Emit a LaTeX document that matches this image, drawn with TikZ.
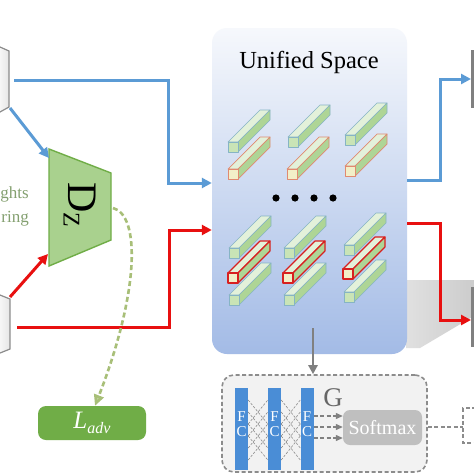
\documentclass[tikz,border=0pt]{standalone}
\usepackage{fontspec}
\setmainfont{Liberation Serif}
\usetikzlibrary{arrows.meta,calc}
\definecolor{lineblue}{HTML}{5B9BD5}
\definecolor{linered}{HTML}{E81010}
\definecolor{dzfill}{HTML}{A9D18E}
\definecolor{dzdraw}{HTML}{70AD47}
\definecolor{advgreen}{HTML}{70AD47}
\definecolor{curvegreen}{HTML}{A8BF78}
\definecolor{spacetop}{HTML}{F6F8FC}
\definecolor{spacebot}{HTML}{A3BBE6}
\definecolor{fcblue}{HTML}{4A8DD6}
\definecolor{gbox}{HTML}{F2F2F2}
\definecolor{gline}{HTML}{8C8C8C}
\definecolor{softgray}{HTML}{BFBFBF}
\definecolor{sharetext}{HTML}{84A070}
\definecolor{cubtop}{HTML}{E3F1DA}
\definecolor{cubside}{HTML}{AED596}
\definecolor{cubfront}{HTML}{C9E4B6}
\definecolor{cubfronty}{HTML}{F2EFC8}
\definecolor{edgeblue}{HTML}{86B4C4}
\definecolor{edgeredl}{HTML}{E08A70}
\definecolor{edgered}{HTML}{D82020}
\newcommand{\cub}[5]{%
  \filldraw[draw=#3,line width=#5,fill=cubtop,line join=round] (#1,#2) -- ++(10,0) -- ++(32,-32) -- ++(-10,0) -- cycle;
  \filldraw[draw=#3,line width=#5,fill=cubside,line join=round] (#1+10,#2) -- ++(0,10) -- ++(32,-32) -- ++(0,-10) -- cycle;
  \filldraw[draw=#3,line width=#5,fill=#4,line join=round] (#1,#2) rectangle ++(10,10);
}
\tikzset{
  conn/.style={line width=3,line join=miter},
  bluec/.style={conn,draw=lineblue,-{Triangle[length=10,width=10]}},
  redc/.style={conn,draw=linered,-{Triangle[length=10,width=10]}},
  leftshape/.style={draw=gline,line width=1.2,left color=white,right color=black!10},
  rightbar/.style={fill=black!50},
  dashg/.style={draw=gline,line width=1.6,dash pattern=on 4 off 2.5},
  fctext/.style={text=white,font=\fontsize{15}{15}\selectfont,inner sep=0},
}
\begin{document}
\begin{tikzpicture}[x=1pt,y=-1pt]
\useasboundingbox (0,0) rectangle (474,474);
\clip (0,0) rectangle (474,474);
\fill[white] (0,0) rectangle (474,474);

% shadow on right
\shade[left color=black!12,right color=black!20] (406,280) -- (474,280) -- (474,316) -- (420,348) -- (406,348) -- cycle;

% left shapes
\draw[leftshape] (-5,47) -- (0,47) -- (9,51) -- (9,107) -- (0,112) -- (-5,112) -- cycle;
\draw[leftshape] (-5,295) -- (0,295) -- (10,299) -- (10,349) -- (0,353) -- (-5,353) -- cycle;
\coordinate (ta) at (14,80);
\coordinate (tb) at (10,108);
\coordinate (ba) at (10,297);
\coordinate (bb) at (17,327);

% unified space
\node[minimum width=195,minimum height=326,rounded corners=15,top color=spacetop,bottom color=spacebot,draw=none] (us) at (309.5,191) {};
\node[font=\fontsize{24.5}{26}\selectfont] (ustitle) at (309,62) {Unified Space};

% cuboids upper
\cub{228}{142}{edgeblue}{cubfront}{0.6}
\cub{288}{137}{edgeblue}{cubfront}{0.6}
\cub{345}{135}{edgeblue}{cubfront}{0.6}
\cub{228}{169}{edgeredl}{cubfronty}{0.7}
\cub{287}{169}{edgeredl}{cubfronty}{0.7}
\cub{345}{166}{edgeredl}{cubfronty}{0.7}
% dots
\foreach \i/\xx in {1/276,2/295,3/314,4/333}{\fill (\xx,198) circle (3.6);}
% cuboids lower
\cub{229}{248}{edgeblue}{cubfront}{0.6}
\cub{284}{248}{edgeblue}{cubfront}{0.6}
\cub{344}{245}{edgeblue}{cubfront}{0.6}
\cub{228}{273}{edgered}{cubfronty}{1.1}
\cub{283}{273}{edgered}{cubfronty}{1.1}
\cub{343}{269}{edgered}{cubfronty}{1.1}
\cub{229}{295}{edgeblue}{cubfront}{0.6}
\cub{284}{295}{edgeblue}{cubfront}{0.6}
\cub{344}{292}{edgeblue}{cubfront}{0.6}

% Dz trapezoid
\filldraw[fill=dzfill,draw=dzdraw,line width=1.4] (49,149) -- (111,173) -- (111,240) -- (49,266) -- cycle;
\coordinate (dztl) at (49,158);
\coordinate (dzbl) at (48,254);
\coordinate (dzr) at (113,208);
\node[rotate=-90,inner sep=0] (dz) at (80,205) {\fontsize{42}{42}\selectfont D\raisebox{-0.12em}{\fontsize{24}{24}\selectfont Z}};

% weights sharing (cut)
\node[anchor=base east,inner sep=0,text=sharetext,font=\fontsize{17}{17}\selectfont] (w1) at (29,198) {ghts};
\node[anchor=base east,inner sep=0,text=sharetext,font=\fontsize{17}{17}\selectfont] (w2) at (29,222) {ring};

% connectors left
\draw[bluec] (ta) -- (168,80) -- (168,183) -- (us.west |- 0,183);
\draw[bluec] (tb) -- (dztl);
\draw[redc] (bb) -- (169,327) -- (169,230) -- (us.west |- 0,230);
\draw[redc] (ba) -- (dzbl);

% L_adv
\node[fill=advgreen,rounded corners=8,minimum width=108,minimum height=34,text=white,font=\fontsize{25}{25}\selectfont] (ladv) at (92,423) {\textit{L}\raisebox{-0.2em}{\fontsize{16}{16}\selectfont\textit{adv}}};
\draw[curvegreen,line width=2.6,dash pattern=on 5 off 3,-{Triangle[length=11,width=10,fill=curvegreen!70]}] (dzr) .. controls (140,215) and (140,290) .. (ladv.north -| 95,0);

% right side
\fill[rightbar] (471,50) rectangle (476,108);
\fill[rightbar] (471,287) rectangle (476,347);
\coordinate (rb) at (471,79);
\coordinate (rr) at (471,320);
\draw[bluec] (us.east |- 0,180) -- (440,180) -- (440,79) -- (rb);
\draw[redc] (us.east |- 0,223) -- (440,223) -- (440,320) -- (rr);

% G box
\node[dashg,fill=gbox,rounded corners=12,minimum width=205,minimum height=97] (gb) at (324.5,423.5) {};
\draw[draw=black!50,line width=2.6,-{Triangle[length=9,width=9]}] (313,328) -- (gb.north -| 313,0);
\node[text=black!60,font=\fontsize{27}{27}\selectfont] (gl) at (333,398) {G};
\foreach \n/\xx in {1/241.5,2/274.5,3/307}{
  \node[fill=fcblue,minimum width=13,minimum height=82,inner sep=0] (fc\n) at (\xx,429) {};
  \node[fctext] (fcf\n) at (\xx,417) {F};
  \node[fctext] (fcc\n) at (\xx,431.5) {C};
}
\foreach \a/\b in {fc1/fc2,fc2/fc3}{
  \foreach \ya/\yb in {400/424,424/400,412/436,436/412,424/448,448/424,436/460,460/436}{
    \draw[black!45,line width=0.6,dash pattern=on 2.5 off 1.5] (\a.east |- 0,\ya) -- (\b.west |- 0,\yb);
  }
}
\node[fill=softgray,rounded corners=7,minimum width=79,minimum height=35,text=white,font=\fontsize{20}{20}\selectfont] (sm) at (382.5,427.5) {Softmax};
\foreach \yy in {416,427,438}{
  \draw[black!50,line width=1.2,dash pattern=on 4 off 2.5,-{Triangle[length=7,width=6]}] (fc3.east |- 0,\yy) -- (sm.west |- 0,\yy);
}
\coordinate (br) at (463,427);
\draw[dashg] (gb.east |- br) -- (br);
\draw[dashg] (476,408) -- (463,408) -- (463,443) -- (476,443);
\end{tikzpicture}
\end{document}
